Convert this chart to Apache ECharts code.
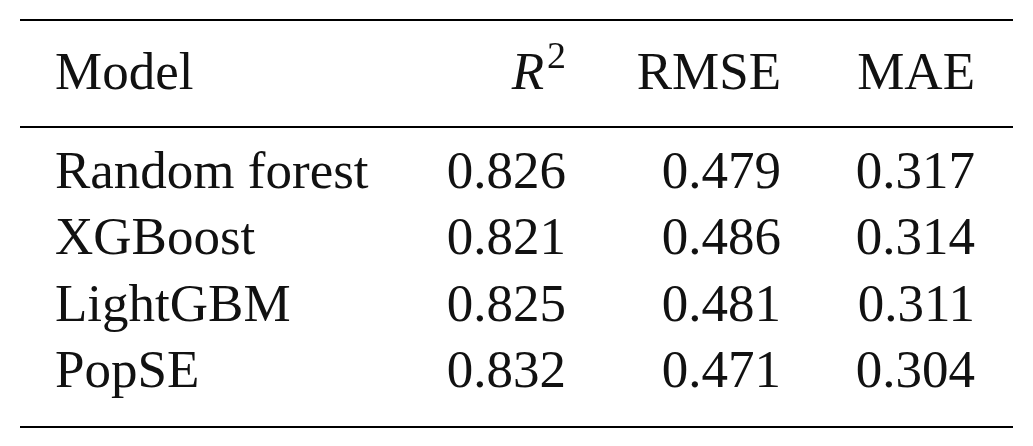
<!DOCTYPE html>
<html><head><meta charset="utf-8">
<script src="https://cdn.jsdelivr.net/npm/echarts@6/dist/echarts.min.js"></script>
<style>html,body{margin:0;background:#fff}#c{width:1033px;height:446px}</style>
</head><body><div id="c"></div>
<script>
var headers = ['Model', 'R2', 'RMSE', 'MAE'];
var models = ['Random forest', 'XGBoost', 'LightGBM', 'PopSE'];
var r2 = ['0.826', '0.821', '0.825', '0.832'];
var rmse = ['0.479', '0.486', '0.481', '0.471'];
var mae = ['0.317', '0.314', '0.311', '0.304'];

var font = '"Liberation Serif", "DejaVu Serif", serif';
var fs = 53;
var colX = [55, 566, 781, 975];
var colAlign = ['left', 'right', 'right', 'right'];
var headY = 75;
var rowY = [174, 240, 307, 373];
var rules = [20, 127, 427];

var els = [];
rules.forEach(function (y) {
	els.push({type: 'line', shape: {x1: 20, y1: y, x2: 1013, y2: y}, style: {stroke: '#000', lineWidth: 2}});
});
function txt(x, y, s, align, rich) {
	var st = {text: s, x: x, y: y, align: align, verticalAlign: 'middle', font: fs + 'px ' + font, fill: '#111'};
	if (rich) st.rich = rich;
	els.push({type: 'text', style: st});
}
headers.forEach(function (h, i) {
	if (h == 'R2') {
		txt(colX[i], headY, '{r|R}{s|2}', 'right', {
			r: {fontFamily: font, fontSize: fs, fontStyle: 'italic', fill: '#111'},
			s: {fontFamily: font, fontSize: 38, fill: '#111', verticalAlign: 'top', padding: [0, 0, 34, 3]}
		});
	} else {
		txt(colX[i], headY, h, colAlign[i]);
	}
});
models.forEach(function (m, r) {
	var vals = [m, r2[r], rmse[r], mae[r]];
	vals.forEach(function (v, i) { txt(colX[i], rowY[r], v, colAlign[i]); });
});

var chart = echarts.init(document.getElementById('c'));
chart.setOption({animation: false, graphic: els});
</script></body></html>
